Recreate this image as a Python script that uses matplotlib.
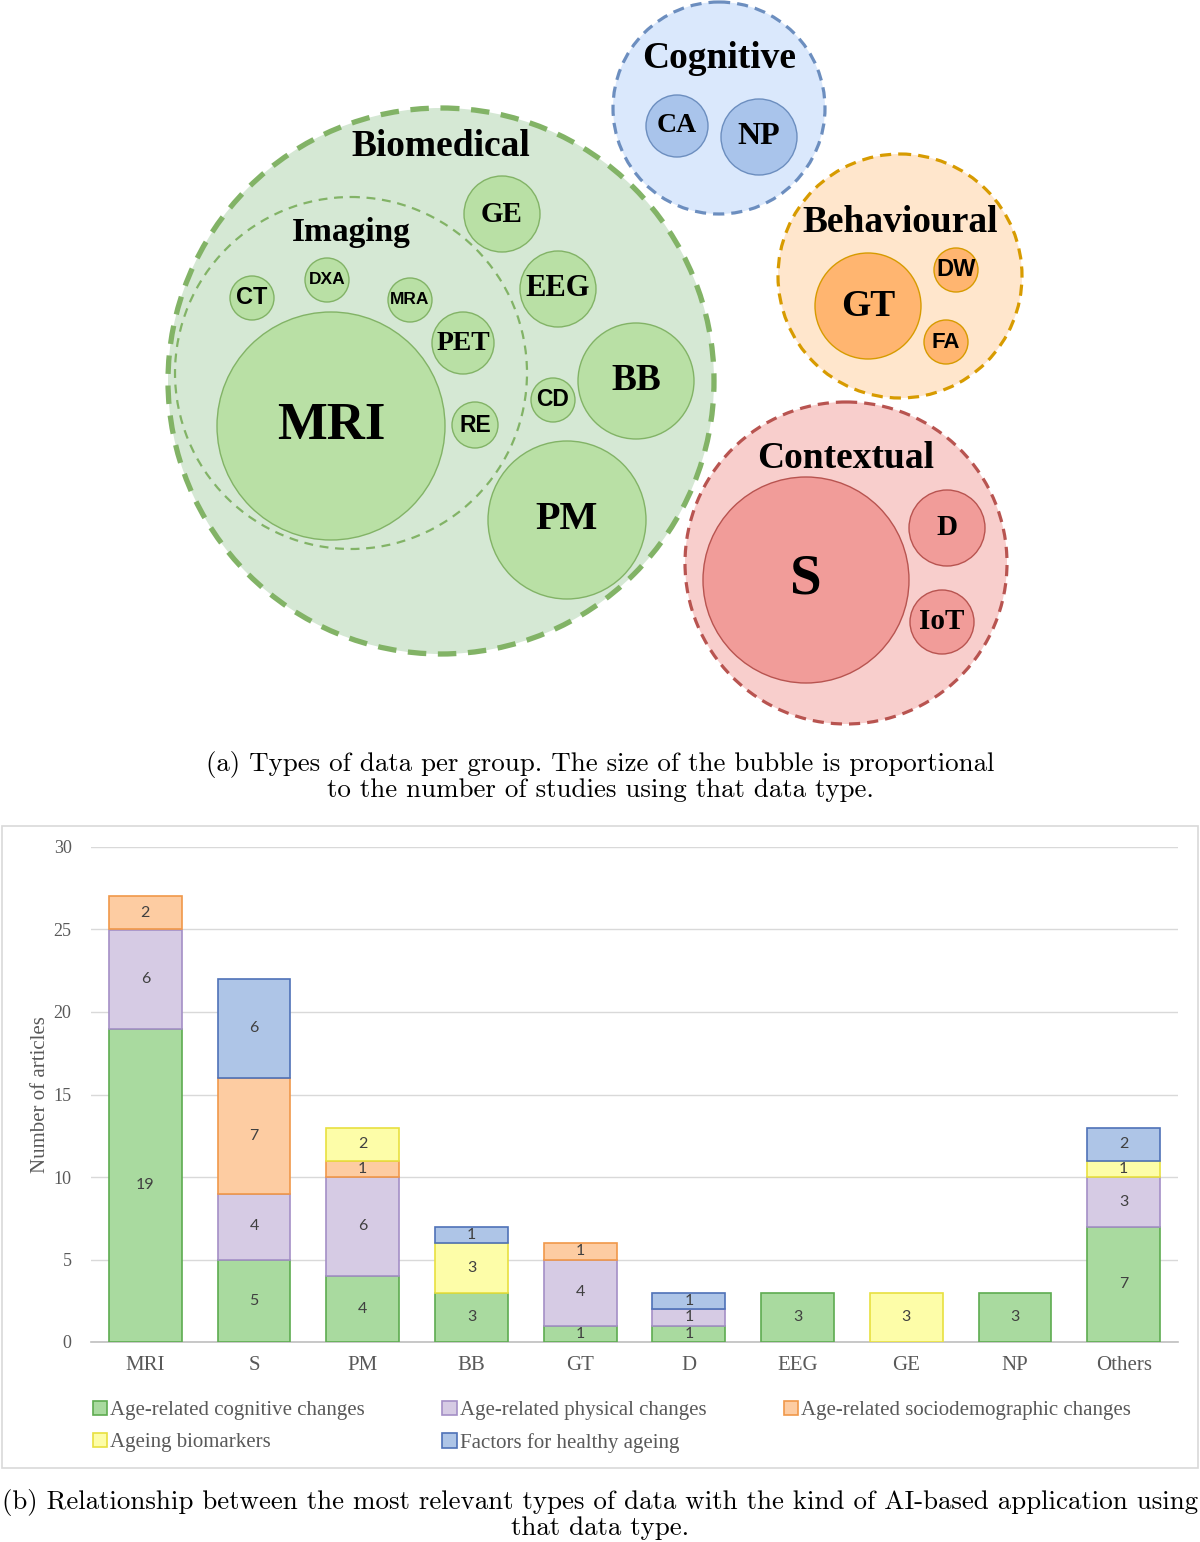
import numpy as np
import matplotlib
matplotlib.use('Agg')
import matplotlib.pyplot as plt
from matplotlib.patches import Circle, Rectangle, Patch

# ---- (a) bubble chart: groups and data types (pixel positions)
group_names = ['Biomedical', 'Cognitive', 'Behavioural', 'Contextual']
group_x = [441, 719, 900, 846]
group_y = [381, 108, 276, 563]
group_r = [273, 106, 122, 161]
group_label_y = [147, 58, 222, 459]

imaging_x, imaging_y, imaging_r, imaging_label_y = 351, 373, 176, 233

type_names = ['MRI', 'CT', 'DXA', 'MRA', 'PET', 'RE', 'GE', 'EEG', 'CD', 'BB', 'PM',
              'CA', 'NP', 'GT', 'DW', 'FA', 'S', 'D', 'IoT']
type_group = [0, 0, 0, 0, 0, 0, 0, 0, 0, 0, 0, 1, 1, 2, 2, 2, 3, 3, 3]
type_x = [331, 252, 327, 410, 463, 475, 502, 558, 553, 636, 567,
          677, 759, 868, 956, 946, 806, 947, 942]
type_y = [426, 298, 280, 300, 343, 425, 214, 289, 400, 381, 520,
          126, 137, 306, 270, 342, 580, 528, 622]
type_r = [114, 22, 22, 22, 31, 23, 38, 38, 22, 58, 79,
          31, 38, 53, 22, 22, 103, 38, 32]

# ---- (b) stacked bars
categories = ['MRI', 'S', 'PM', 'BB', 'GT', 'D', 'EEG', 'GE', 'NP', 'Others']
cognitive = [19, 5, 4, 3, 1, 1, 3, 0, 3, 7]
physical = [6, 4, 6, 0, 4, 1, 0, 0, 0, 3]
sociodemographic = [2, 7, 1, 0, 1, 0, 0, 0, 0, 0]
biomarkers = [0, 0, 2, 3, 0, 0, 0, 3, 0, 1]
healthy = [0, 6, 0, 1, 0, 1, 0, 0, 0, 2]
series_names = ['Age-related cognitive changes', 'Age-related physical changes',
                'Age-related sociodemographic changes', 'Ageing biomarkers',
                'Factors for healthy ageing']

# styles
outer_fill = ['#d5e8d4', '#dae8fc', '#ffe6cc', '#f8cecc']
inner_fill = ['#b9e0a5', '#a9c4eb', '#ffb570', '#f19c99']
edge_col = ['#82b366', '#6c8ebf', '#d79b00', '#b85450']
outer_lw = [3.8, 2.3, 2.3, 2.3]
sans_labels = ['CT', 'DXA', 'MRA', 'RE', 'CD', 'DW', 'FA']
label_size = {'MRI': 38, 'CT': 17, 'DXA': 12.5, 'MRA': 12.5, 'PET': 20, 'RE': 16.5,
              'GE': 21, 'EEG': 22, 'CD': 16.5, 'BB': 27, 'PM': 29, 'CA': 20, 'NP': 23,
              'GT': 27, 'DW': 17, 'FA': 16, 'S': 41, 'D': 21, 'IoT': 21}

bar_fill = ['#a9da9f', '#d6cbe4', '#fdcca2', '#fdfda8', '#aec5e7']
bar_edge = ['#5eac50', '#a48fc6', '#f0984a', '#e8e040', '#4f72b8']

fig = plt.figure(figsize=(12, 15.42), dpi=100)

# ---------------- top panel
ax = fig.add_axes([0, (1542 - 740) / 1542, 1, 740 / 1542])
ax.set_xlim(0, 1200)
ax.set_ylim(740, 0)
ax.axis('off')

for i, name in enumerate(group_names):
    ax.add_patch(Circle((group_x[i], group_y[i]), group_r[i], facecolor=outer_fill[i],
                        edgecolor=edge_col[i], lw=outer_lw[i], linestyle=(0, (3.5, 2.2)),
                        zorder=1))
    ax.text(group_x[i], group_label_y[i], name, ha='center', va='center',
            fontsize=27, fontweight='bold', family='Liberation Serif', zorder=5)

ax.add_patch(Circle((imaging_x, imaging_y), imaging_r, facecolor='none',
                    edgecolor=edge_col[0], lw=1.6, linestyle=(0, (4, 3)), zorder=2))
ax.text(imaging_x, imaging_label_y, 'Imaging', ha='center', va='center',
        fontsize=24, fontweight='bold', family='Liberation Serif', zorder=5)

for name, g, x, y, r in zip(type_names, type_group, type_x, type_y, type_r):
    ax.add_patch(Circle((x, y), r, facecolor=inner_fill[g], edgecolor=edge_col[g],
                        lw=1.0, zorder=3))
    fam = 'Liberation Sans' if name in sans_labels else 'Liberation Serif'
    ax.text(x, y, name, ha='center', va='center', fontsize=label_size[name],
            fontweight='bold', family=fam, zorder=5)

cap_font = ['cmr10', 'DejaVu Serif']
fig.text(0.5, 1 - 764 / 1542, '(a) Types of data per group. The size of the bubble is proportional',
         ha='center', va='center', fontsize=19.4, family=cap_font)
fig.text(0.5, 1 - 790 / 1542, 'to the number of studies using that data type.',
         ha='center', va='center', fontsize=19.4, family=cap_font)

# ---------------- bottom panel
fig.patches.append(Rectangle((2 / 1200, 1 - 1468 / 1542), 1196 / 1200, 642 / 1542,
                             transform=fig.transFigure, facecolor='none',
                             edgecolor='#d9d9d9', lw=1.2))

bx = fig.add_axes([91 / 1200, 200 / 1542, 1087 / 1200, 495 / 1542])
x = np.arange(len(categories))
series = [cognitive, physical, sociodemographic, biomarkers, healthy]
bottom = np.zeros(len(categories))
handles = []
for k, vals in enumerate(series):
    vals = np.array(vals)
    m = vals > 0
    bx.bar(x[m], vals[m], 0.67, bottom=bottom[m], color=bar_fill[k], edgecolor=bar_edge[k],
           lw=1.2, zorder=3)
    for xi, v, b in zip(x[m], vals[m], bottom[m]):
        bx.text(xi, b + v / 2, str(v), ha='center', va='center', fontsize=11.5,
                color='#404040', family='Lato', zorder=4)
    bottom = bottom + vals
    handles.append(Patch(facecolor=bar_fill[k], edgecolor=bar_edge[k], lw=1.2))

bx.set_xlim(-0.5, len(categories) - 0.5)
bx.set_ylim(0, 30)
bx.set_yticks(range(0, 31, 5))
bx.set_xticks(x)
bx.set_xticklabels(categories)
bx.grid(axis='y', color='#d9d9d9', lw=1.0, zorder=0)
for s in ['top', 'right', 'left']:
    bx.spines[s].set_visible(False)
bx.spines['bottom'].set_color('#bfbfbf')
bx.spines['bottom'].set_linewidth(1.2)
bx.tick_params(length=0)
bx.tick_params(axis='y', pad=14, labelsize=13, labelcolor='#595959')
bx.tick_params(axis='x', pad=10, labelsize=15, labelcolor='#595959')
for lab in bx.get_xticklabels() + bx.get_yticklabels():
    lab.set_family('Liberation Serif')
bx.set_ylabel('Number of articles', fontsize=15, color='#595959', family='Liberation Serif')
bx.yaxis.set_label_coords(-0.038, 0.5)

order = [0, 3, 1, 4, 2]
fig.legend([handles[i] for i in order], [series_names[i] for i in order],
           loc='upper left', bbox_to_anchor=(74 / 1200, 1 - 1382 / 1542), ncol=3,
           frameon=False, handlelength=0.7, handleheight=0.7, handletextpad=0.15,
           columnspacing=3.7, labelspacing=0.6,
           prop={'family': 'Liberation Serif', 'size': 15}, labelcolor='#595959')

fig.text(0.5, 1 - 1502 / 1542,
         '(b) Relationship between the most relevant types of data with the kind of AI-based application using',
         ha='center', va='center', fontsize=19.4, family=cap_font)
fig.text(0.5, 1 - 1528 / 1542, 'that data type.', ha='center', va='center',
         fontsize=19.4, family=cap_font)

fig.savefig('out.png', dpi=100, facecolor='white')
